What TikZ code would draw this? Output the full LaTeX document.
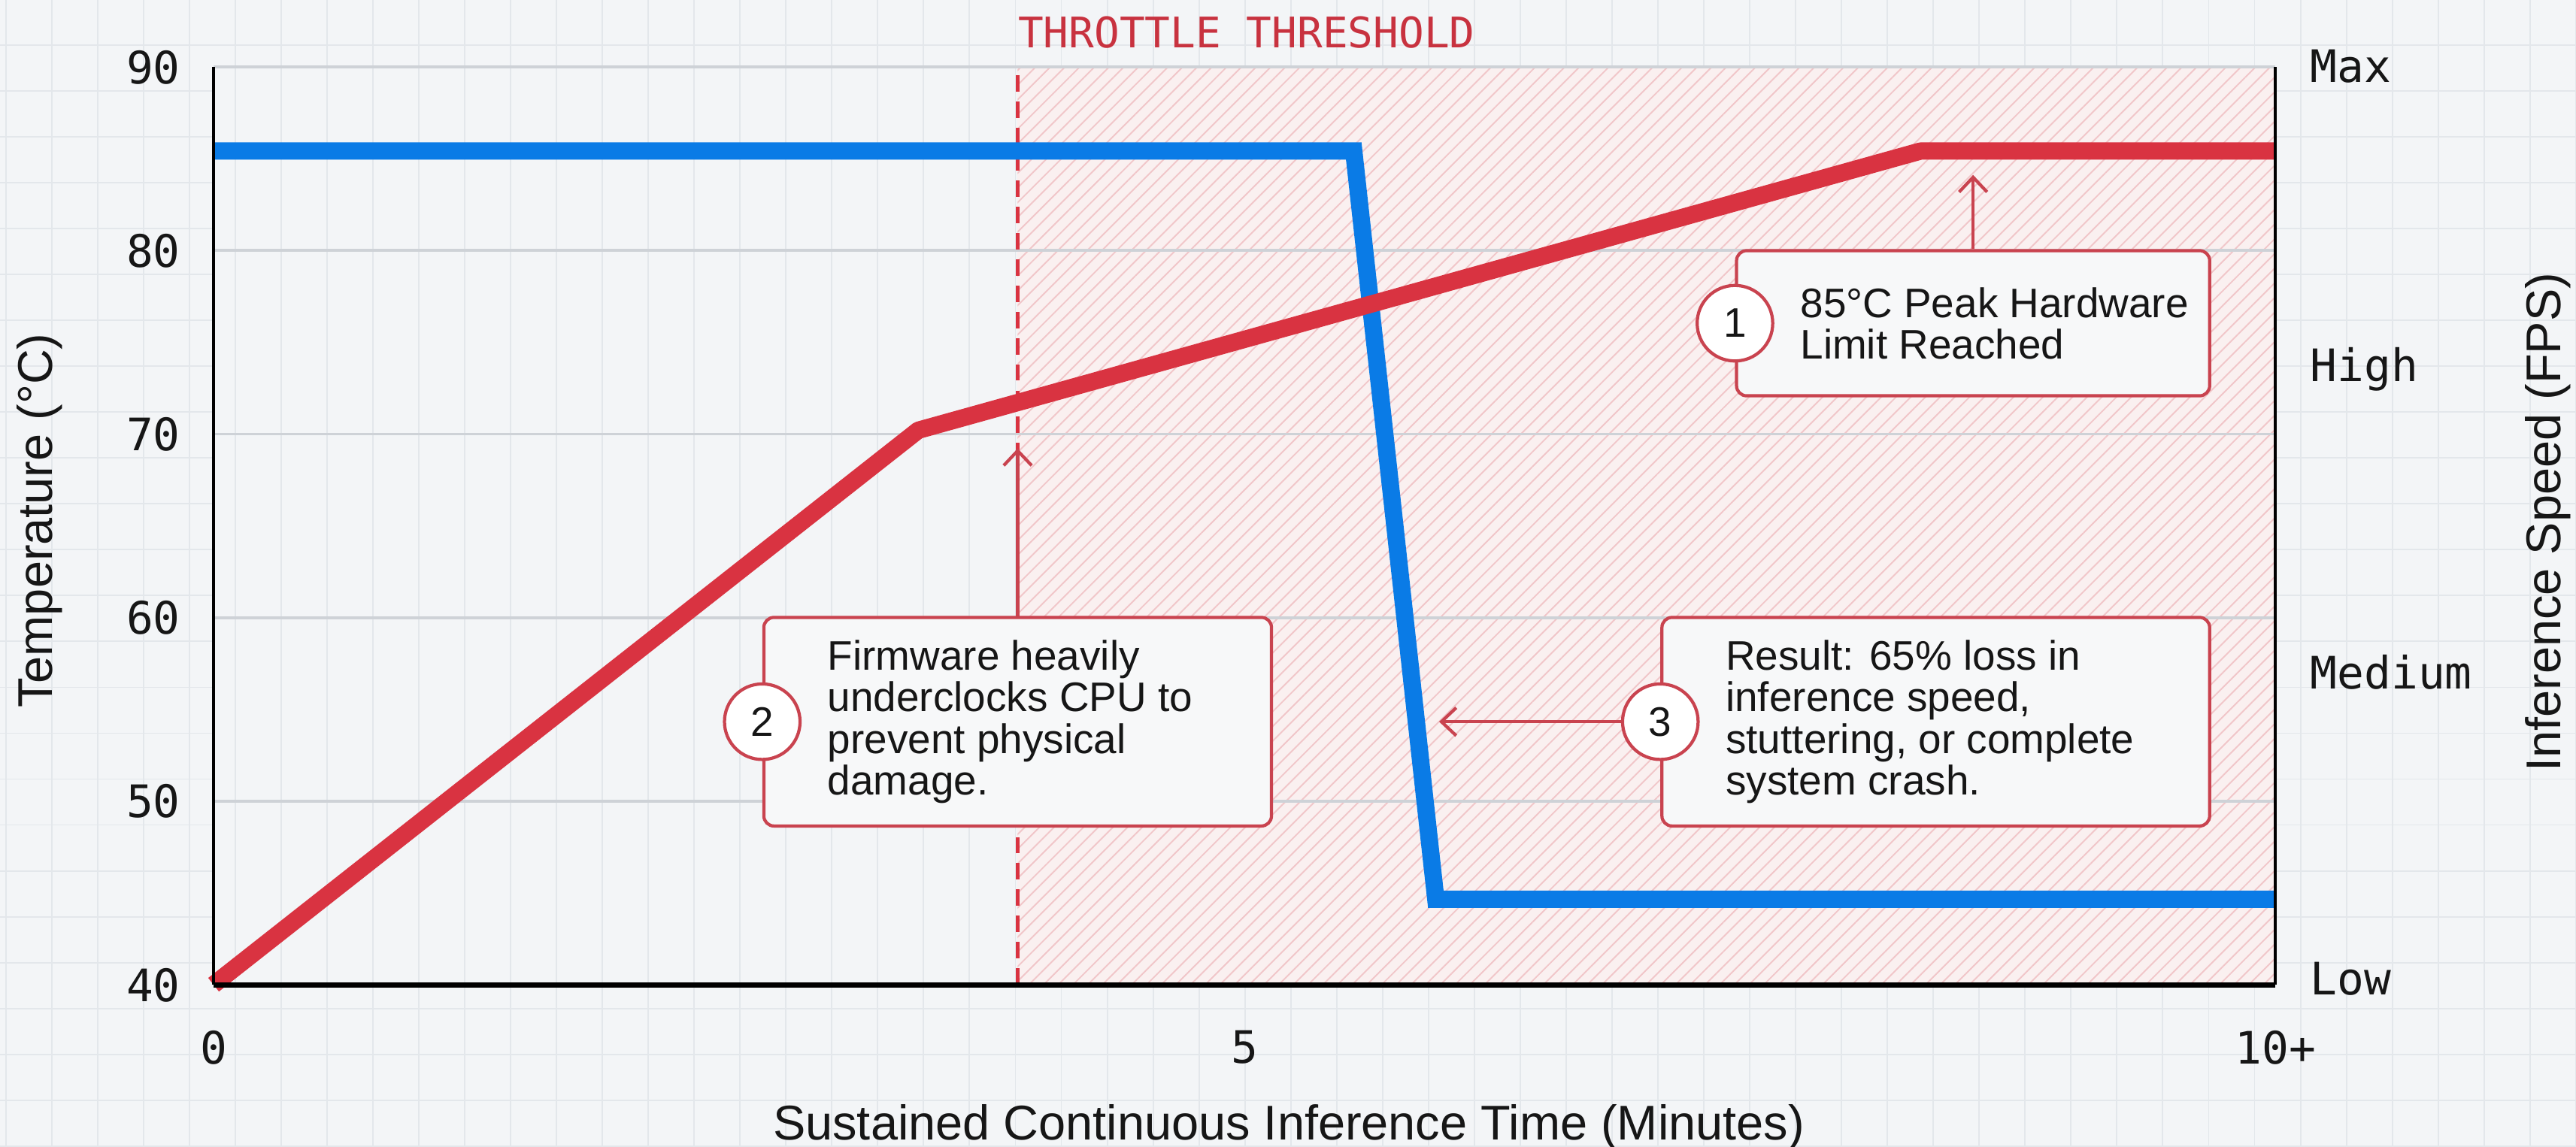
\documentclass[tikz,border=0pt]{standalone}
\usepackage{fontspec}
\setmainfont{Liberation Sans}
\newfontfamily\tickfont{DejaVu Sans Mono}
\usepackage{tikz}
\usetikzlibrary{arrows.meta,patterns.meta}
\definecolor{chartbg}{HTML}{F3F5F7}
\definecolor{chartfaint}{HTML}{E3E7EB}
\definecolor{chartgrid}{HTML}{CED2D7}
\definecolor{chartblue}{HTML}{0A7BE6}
\definecolor{chartred}{HTML}{D93341}
\definecolor{chartdark}{HTML}{C8323F}
\definecolor{chartedge}{HTML}{C9434F}
\definecolor{chartpink}{HTML}{FAF0F0}
\definecolor{charthatch}{HTML}{F1C6C9}
\definecolor{chartbox}{HTML}{F7F8F9}
\definecolor{chartink}{HTML}{161616}

\begin{document}
\begin{tikzpicture}[
  x=2.51cm, y=0.22352cm,
  faint/.style={chartfaint, line width=0.5pt},
  hgrid/.style={chartgrid, line width=1pt},
  ticklabel/.style={font=\tickfont\fontsize{15.5}{16}\selectfont, text=chartink, inner sep=0pt, text depth=0pt},
  axtitle/.style={font=\fontsize{16.9}{18}\selectfont, text=chartink, inner sep=0pt},
  curve/.style={line width=6pt},
  callout/.style={draw=chartedge, line width=1.1pt, fill=chartbox, rounded corners=3.5pt, inner sep=0pt},
  badge/.style={circle, draw=chartedge, line width=1.1pt, fill=white, minimum size=0.92cm, inner sep=0pt,
                font=\fontsize{14.3}{14.4}\selectfont, text=chartink},
  note/.style={align=left, inner sep=0pt, anchor=west, font=\fontsize{14.3}{14.4}\selectfont, text=chartink},
  pointer/.style={-{Straight Barb[length=0.18cm, width=0.34cm]}, chartedge, line width=1.1pt},
]
\useasboundingbox (-1.0359,31.195) rectangle (11.4582,93.651);
\fill[chartbg] (-1.0359,31.195) rectangle (11.4582,93.651);
\foreach \k in {0,...,25}
  \draw[faint] (-1.0359,{93.687-2.499*\k}) -- (11.4582,{93.687-2.499*\k});
\fill[chartbg] (0,40) rectangle (10,90);
\foreach \k in {0,...,56}
  \draw[faint] ({-1.008+0.2226*\k},31.195) -- ({-1.008+0.2226*\k},93.651);

\fill[chartpink] (3.9,40) rectangle (10,90);
\fill[pattern={Lines[angle=45,distance=3.6pt,line width=0.5pt]}, pattern color=charthatch]
  (3.9,40) rectangle (10,90);
\foreach \t in {50,60,...,90}
  \draw[hgrid] (0,\t) -- (10,\t);

\foreach \t in {40,50,...,90}
  \node[ticklabel, anchor=east] (temp\t) at (-0.159,\t) {\t};
\node[ticklabel, anchor=west] (smax) at (10.167,90.04) {Max};
\node[ticklabel, anchor=west] (shigh) at (10.167,73.79) {High};
\node[ticklabel, anchor=west] (smed) at (10.167,57.05) {Medium};
\node[ticklabel, anchor=west] (slow) at (10.167,40.32) {Low};
\node[ticklabel] (min0) at (0,36.6) {0};
\node[ticklabel] (min5) at (5,36.6) {5};
\node[ticklabel] (min10) at (10,36.6) {10+};

\node[axtitle, rotate=90] (ytitle) at (-0.8446,65.29) {Temperature (°C)};
\node[axtitle, rotate=90] (stitle) at (11.323,65.2) {Inference Speed (FPS)};
\node[axtitle, anchor=base] (xtitle) at (5.215,31.55) {Sustained Continuous Inference Time (Minutes)};

\draw[chartred, line width=1.1pt, dash pattern=on 5.7pt off 3.4pt] (3.9,40) -- (3.9,90);
\node[font=\tickfont\fontsize{14.6}{15}\selectfont, text=chartdark, anchor=base west, inner sep=0pt]
  (thr) at (3.9,91.06) {THROTTLE THRESHOLD};

\draw[curve, chartblue, line join=miter] (0,85.42) -- (5.53,85.42) -- (5.928,44.66) -- (10,44.66);
\draw[curve, chartred, line join=round] (0,40) -- (3.418,70.21) -- (8.279,85.42) -- (10,85.42);

\draw[black, line width=0.9pt] (0,90) -- (0,40);
\draw[black, line width=0.9pt] (10,40) -- (10,90);
\draw[black, line width=1.8pt] (0,40) -- (10,40);

\node[callout, minimum width=5.76cm, minimum height=1.768cm] (box1) at (8.534,76.04) {};
\node[badge] (badge1) at (box1.west) {1};
\node[note] (note1) at ([xshift=0.79cm]box1.west) {85°C Peak Hardware\\Limit Reached};
\coordinate (peak) at (8.534,84.12);
\draw[pointer] (box1.north) -- (peak);

\node[callout, minimum width=6.18cm, minimum height=2.54cm] (box2) at (3.9,54.33) {};
\node[badge] (badge2) at (box2.west) {2};
\node[note] (note2) at ([xshift=0.79cm]box2.west)
  {Firmware heavily\\underclocks CPU to\\prevent physical\\damage.};
\coordinate (knee) at (3.9,69.22);
\draw[pointer] (box2.north) -- (knee);

\node[callout, minimum width=6.668cm, minimum height=2.54cm] (box3) at (8.353,54.33) {};
\node[badge] (badge3) at (box3.west) {3};
\node[note] (note3) at ([xshift=0.79cm]box3.west)
  {Result: 65\% loss in\\inference speed,\\stuttering, or complete\\system crash.};
\coordinate (drop) at (5.944,54.33);
\draw[pointer] (badge3.west) -- (drop);
\end{tikzpicture}
\end{document}
